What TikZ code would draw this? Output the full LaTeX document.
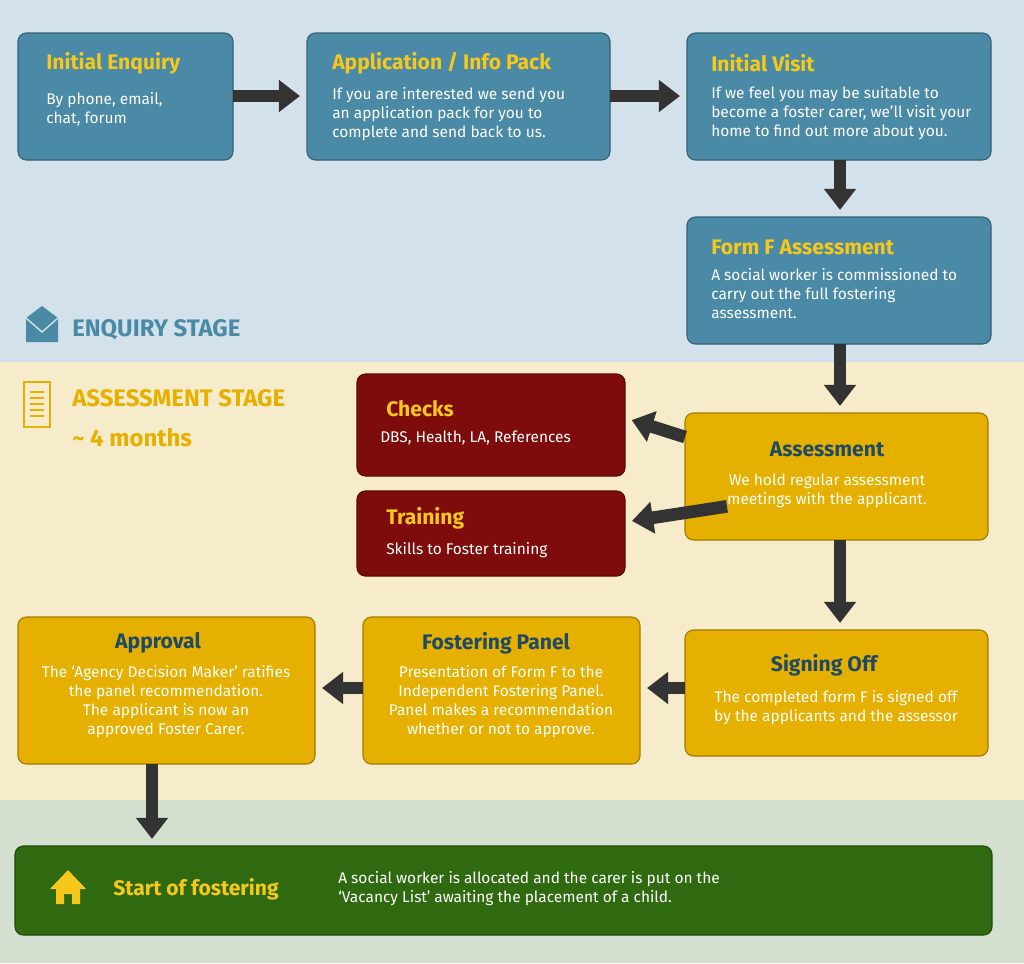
\documentclass[tikz,border=0pt]{standalone}
\usepackage{fontspec}
\setmainfont{Fira Sans}
\usetikzlibrary{arrows.meta, positioning}
\definecolor{bgblue}{HTML}{D3E2EA}
\definecolor{bgcream}{HTML}{F6ECCB}
\definecolor{bggreen}{HTML}{D3E0CF}
\definecolor{boxblue}{HTML}{4B8AA6}
\definecolor{boxgold}{HTML}{E6B000}
\definecolor{boxred}{HTML}{7E0C0C}
\definecolor{boxgreen}{HTML}{2F6A10}
\definecolor{ttlyellow}{HTML}{F6C81C}
\definecolor{ttlblue}{HTML}{1E4A66}
\definecolor{arr}{HTML}{333333}
\tikzset{%
    box/.style={draw=#1!70!black, line width=0.8pt, fill=#1, rounded corners=6pt, inner sep=0pt},
    ttl/.style={font=\fontsize{15}{17}\selectfont\bfseries, inner sep=0pt},
    txt/.style={font=\fontsize{11}{13.5}\selectfont, text=white, inner sep=0pt},
    blk/.style={line width=9pt, draw=arr, -{Triangle[length=15pt, width=22pt]}, shorten >=5pt},
}
\begin{document}
\begin{tikzpicture}[x=0.025cm, y=-0.025cm]
    % bands
    \fill [bgblue] (0,0) rectangle (1024,362);
    \fill [bgcream] (0,362) rectangle (1024,800);
    \fill [bggreen] (0,800) rectangle (1024,963);
    % enquiry boxes
    \draw [box=boxblue] (18,33) rectangle (233,160);
    \coordinate (enqW) at (18,96); \coordinate (enqE) at (233,96);
    \draw [box=boxblue] (307,33) rectangle (610,160);
    \coordinate (appW) at (307,96); \coordinate (appE) at (610,96);
    \draw [box=boxblue] (687,33) rectangle (991,160);
    \coordinate (visW) at (687,96); \coordinate (visS) at (840,160);
    \draw [box=boxblue] (687,217) rectangle (991,344);
    \coordinate (fofN) at (840,217); \coordinate (fofS) at (840,344);
    \node [ttl, text=ttlyellow, anchor=west] (enqT) at (46,63) {Initial Enquiry};
    \node [txt, anchor=north west, align=left] (enqB) at (46,92) {By phone, email,\\chat, forum};
    \node [ttl, text=ttlyellow, anchor=west] (appT) at (332,63) {Application / Info Pack};
    \node [txt, anchor=north west, align=left] (appB) at (332,87) {If you are interested we send you\\an application pack for you to\\complete and send back to us.};
    \node [ttl, text=ttlyellow, anchor=west] (visT) at (711,63) {Initial Visit};
    \node [txt, anchor=north west, align=left] (visB) at (711,86) {If we feel you may be suitable to\\become a foster carer, we'll visit your\\home to find out more about you.};
    \node [ttl, text=ttlyellow, anchor=west] (fofT) at (711,247) {Form F Assessment};
    \node [txt, anchor=north west, align=left] (fofB) at (711,268) {A social worker is commissioned to\\carry out the full fostering\\assessment.};
    % assessment boxes
    \draw [box=boxred] (357,374) rectangle (625,476);
    \coordinate (chkE) at (625,418);
    \draw [box=boxred] (357,491) rectangle (625,576);
    \coordinate (trnE) at (625,522);
    \draw [box=boxgold] (685,413) rectangle (988,540);
    \coordinate (assN) at (840,413); \coordinate (assS) at (840,540);
    \coordinate (assA) at (685,437); \coordinate (assB) at (685,503);
    \draw [box=boxgold] (685,630) rectangle (988,756);
    \coordinate (sgnN) at (840,630); \coordinate (sgnW) at (685,688);
    \draw [box=boxgold] (363,617) rectangle (640,764);
    \coordinate (panE) at (640,688); \coordinate (panW) at (363,688);
    \draw [box=boxgold] (18,617) rectangle (315,764);
    \coordinate (aprE) at (315,688); \coordinate (aprS) at (152,764);
    \node [ttl, text=ttlyellow, anchor=west] (chkT) at (386,409) {Checks};
    \node [txt, anchor=west] (chkB) at (380,438) {DBS, Health, LA, References};
    \node [ttl, text=ttlyellow, anchor=west] (trnT) at (386,518) {Training};
    \node [txt, anchor=west] (trnB) at (386,550) {Skills to Foster training};
    \node [ttl, text=ttlblue] (assT) at (827,449) {Assessment};
    \node [txt, align=center] (assB) at (827,491) {We hold regular assessment\\meetings with the applicant.};
    \node [ttl, text=ttlblue] (sgnT) at (824,665) {Signing Off};
    \node [txt, align=center] (sgnB) at (836,708) {The completed form F is signed off\\by the applicants and the assessor};
    \node [ttl, text=ttlblue] (panT) at (496,643) {Fostering Panel};
    \node [txt, align=center] (panB) at (501,702) {Presentation of Form F to the\\Independent Fostering Panel.\\Panel makes a recommendation\\whether or not to approve.};
    \node [ttl, text=ttlblue] (aprT) at (158,643) {Approval};
    \node [txt, align=center] (aprB) at (166,702) {The `Agency Decision Maker' ratifies\\the panel recommendation.\\The applicant is now an\\approved Foster Carer.};
    % start
    \draw [box=boxgreen] (15,846) rectangle (992,935);
    \coordinate (strN) at (152,846);
    \fill [ttlyellow] (50,889) -- (68,870) -- (86,889) -- (80,889) -- (80,904) -- (72,904) -- (72,894) -- (64,894) -- (64,904) -- (56,904) -- (56,889) -- cycle;
    \node [ttl, text=ttlyellow, anchor=west] (strT) at (113,889) {Start of fostering};
    \node [txt, anchor=west, align=left] (strB) at (338,889) {A social worker is allocated and the carer is put on the\\`Vacancy List' awaiting the placement of a child.};
    % stage labels
    \fill [boxblue] (26,318) -- (42,306) -- (58,318) -- (58,342) -- (26,342) -- cycle;
    \draw [bgblue, line width=1pt] (26,318) -- (42,332) -- (58,318);
    \node [font=\fontsize{17}{19}\selectfont\bfseries, text=boxblue, anchor=west, inner sep=0pt] (enqS) at (72,330) {ENQUIRY STAGE};
    \draw [boxgold, line width=1.5pt, fill=bgcream] (24,382) rectangle (50,427);
    \foreach \yy in {392,398,404,410,416} \draw [boxgold, line width=1pt] (30,\yy) -- (44,\yy);
    \node [font=\fontsize{17}{19}\selectfont\bfseries, text=boxgold, anchor=west, inner sep=0pt] (assS1) at (72,398) {ASSESSMENT STAGE};
    \node [font=\fontsize{17}{19}\selectfont\bfseries, text=boxgold, anchor=west, inner sep=0pt] (assS2) at (72,438) {\textasciitilde{} 4 months};
    % arrows
    \draw [blk] (enqE) -- (appW);
    \draw [blk] (appE) -- (visW);
    \draw [blk] (visS) -- (fofN);
    \draw [blk] (fofS) -- (assN);
    \draw [blk] (assA) -- (chkE);
    \draw [blk] (assB) -- (trnE);
    \draw [blk] (assS) -- (sgnN);
    \draw [blk] (sgnW) -- (panE);
    \draw [blk] (panW) -- (aprE);
    \draw [blk] (aprS) -- (strN);
\end{tikzpicture}
\end{document}
